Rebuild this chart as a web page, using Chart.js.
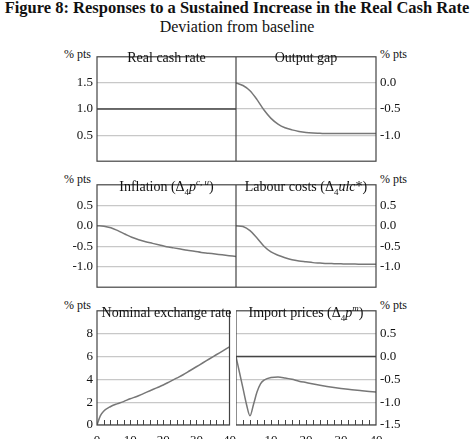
<!DOCTYPE html>
<html>
<head>
<meta charset="utf-8">
<script src="https://cdn.jsdelivr.net/npm/chart.js@4"></script>
<style>
  body { margin: 0; background: #fff; font-family: "Liberation Serif", serif; }
  #wrap { position: relative; width: 474px; height: 439px; overflow: hidden; }
  .c { position: absolute; }
  .t { position: absolute; color: #111; white-space: nowrap; line-height: 18px; }
  .t sub, .t sup { line-height: 0; font-size: 9px; }
</style>
</head>
<body>
<div id="wrap">
  <div class="t" style="left:0;width:474px;top:-1px;text-align:center;font-weight:bold;font-size:16.5px">Figure 8: Responses to a Sustained Increase in the Real Cash Rate</div>
  <div class="t" style="left:0;width:474px;top:18px;text-align:center;font-size:16px">Deviation from baseline</div>

  <div class="t" style="left:64px;top:45px;font-size:12px">% pts</div>
  <div class="t" style="left:380px;top:45px;font-size:12px">% pts</div>
  <div class="t" style="left:64px;top:170px;font-size:12px">% pts</div>
  <div class="t" style="left:380px;top:170px;font-size:12px">% pts</div>
  <div class="t" style="left:64px;top:296px;font-size:12px">% pts</div>
  <div class="t" style="left:380px;top:296px;font-size:12px">% pts</div>

  <canvas class="c" id="p1" style="left:47px;top:45px"></canvas>
  <canvas class="c" id="p2" style="left:236px;top:45px"></canvas>
  <canvas class="c" id="p3" style="left:47px;top:173px"></canvas>
  <canvas class="c" id="p4" style="left:236px;top:173px"></canvas>
  <canvas class="c" id="p5" style="left:47px;top:299px"></canvas>
  <canvas class="c" id="p6" style="left:236px;top:299px"></canvas>

  <div class="t" style="left:97px;width:139px;top:49px;text-align:center;font-size:14px">Real cash rate</div>
  <div class="t" style="left:236px;width:140px;top:49px;text-align:center;font-size:14px">Output gap</div>
  <div class="t" style="left:97px;width:139px;top:178px;text-align:center;font-size:14px">Inflation (Δ<sub>4</sub><i>p</i><sup><i>c, u</i></sup>)</div>
  <div class="t" style="left:236px;width:140px;top:178px;text-align:center;font-size:14px">Labour costs (Δ<sub>4</sub><i>ulc</i>*)</div>
  <div class="t" style="left:97px;width:139px;top:304px;text-align:center;font-size:14px">Nominal exchange rate</div>
  <div class="t" style="left:236px;width:140px;top:304px;text-align:center;font-size:14px">Import prices (Δ<sub>4</sub><i>p</i><sup><i>m</i></sup>)</div>
</div>

<script>
// quarters after the shock
const quarters = [0, 2, 4, 6, 8, 10, 12, 14, 16, 18, 20, 22, 24, 26, 28, 30, 32, 34, 36, 38, 40];
const realCash = [1, 1, 1, 1, 1, 1, 1, 1, 1, 1, 1, 1, 1, 1, 1, 1, 1, 1, 1, 1, 1];
const outputGap = [0, -0.05, -0.15, -0.32, -0.52, -0.68, -0.79, -0.86, -0.9, -0.93, -0.95, -0.96, -0.965, -0.97, -0.97, -0.97, -0.97, -0.97, -0.97, -0.97, -0.97];
const inflation = [0, -0.01, -0.05, -0.12, -0.2, -0.28, -0.34, -0.39, -0.43, -0.47, -0.51, -0.54, -0.57, -0.6, -0.62, -0.65, -0.67, -0.69, -0.71, -0.73, -0.75];
const labourCosts = [0, -0.02, -0.12, -0.3, -0.5, -0.64, -0.72, -0.78, -0.83, -0.86, -0.88, -0.9, -0.91, -0.92, -0.925, -0.93, -0.935, -0.935, -0.94, -0.94, -0.94];
const exchQuarters = [0, 1, 2, 4, 6, 8, 10, 12, 14, 16, 18, 20, 22, 24, 26, 28, 30, 32, 34, 36, 38, 40];
const exchangeRate = [0, 0.8, 1.2, 1.6, 1.85, 2.05, 2.3, 2.5, 2.75, 3.0, 3.25, 3.5, 3.8, 4.1, 4.4, 4.75, 5.1, 5.45, 5.8, 6.15, 6.5, 6.85];
const importQuarters = [0, 1, 2, 3, 4, 5, 6, 7, 8, 10, 12, 14, 16, 18, 20, 24, 28, 32, 36, 40];
const importPrices = [0, -0.35, -0.7, -1.05, -1.3, -1.05, -0.78, -0.6, -0.52, -0.46, -0.45, -0.47, -0.5, -0.54, -0.57, -0.63, -0.68, -0.72, -0.75, -0.78];
const zeroLine = [0, 0];
const zeroQuarters = [0, 40];

const leftTicks = [[0.5, 1.0, 1.5], [-1.0, -0.5, 0.0, 0.5], [0, 2, 4, 6, 8]];
const rightTicks = [[-1.0, -0.5, 0.0], [-1.0, -0.5, 0.0, 0.5], [-1.5, -1.0, -0.5, 0.0, 0.5]];

const FONT = { family: "Liberation Serif", size: 13 };

function pts(xs, ys) { return xs.map((x, i) => ({ x: x, y: ys[i] })); }

const frame = {
    id: "frame",
    afterDraw(chart) {
        const a = chart.chartArea, ctx = chart.ctx;
        ctx.save();
        ctx.strokeStyle = "#444";
        ctx.lineWidth = 1.2;
        ctx.strokeRect(a.left, a.top, a.right - a.left, a.bottom - a.top);
        if (chart.options.plugins.frame.minor) {
            const xs = chart.scales.x;
            ctx.lineWidth = 1;
            for (let q = 2; q < 40; q += 2) {
                const px = Math.round(xs.getPixelForValue(q)) + 0.5;
                ctx.beginPath();
                ctx.moveTo(px, a.bottom);
                ctx.lineTo(px, a.bottom - 5);
                ctx.stroke();
            }
        }
        ctx.restore();
    }
};

function panel(id, side, w, h, yMin, yMax, ticks, datasets, bottom) {
    const cv = document.getElementById(id);
    cv.width = w; cv.height = h;
    cv.style.width = w + "px"; cv.style.height = h + "px";
    return new Chart(cv, {
        type: "line",
        data: { datasets: datasets },
        options: {
            responsive: false,
            animation: false,
            devicePixelRatio: 1,
            layout: { padding: 0 },
            plugins: { legend: { display: false }, tooltip: { enabled: false }, frame: { minor: bottom } },
            elements: { point: { radius: 0 } },
            scales: {
                x: {
                    type: "linear", min: 0, max: 40,
                    display: true,
                    grid: { display: false },
                    border: { display: false },
                    afterBuildTicks: s => { s.ticks = (side === "left" ? [0, 10, 20, 30, 40] : [10, 20, 30, 40]).map(v => ({ value: v })); },
                    afterFit: s => { s.height = bottom ? 16 : 0; },
                    ticks: { display: bottom, color: "#111", font: FONT, padding: 0, maxRotation: 0 }
                },
                y: {
                    position: side, min: yMin, max: yMax,
                    afterBuildTicks: s => { s.ticks = ticks.map(v => ({ value: v })); },
                    afterFit: s => { s.width = side === "left" ? 50 : 40; },
                    grid: { color: "#c8c8c8", lineWidth: 1.2, drawTicks: false },
                    border: { display: false },
                    ticks: {
                        color: "#111", font: FONT, padding: 4,
                        callback: v => (Math.abs(yMax - yMin) > 5 ? String(v) : v.toFixed(1))
                    }
                }
            }
        },
        plugins: [frame]
    });
}

function line(data, color, width) {
    return { data: data, borderColor: color, borderWidth: width, tension: 0.4, cubicInterpolationMode: "monotone", fill: false };
}

panel("p1", "left", 189, 128, 0, 2, leftTicks[0], [line(pts(quarters, realCash), "#444", 1.6)], false);
panel("p2", "right", 180, 128, -1.5, 0.5, rightTicks[0], [line(pts(quarters, outputGap), "#777", 1.5)], false);
panel("p3", "left", 189, 126, -1.5, 1.0, leftTicks[1], [line(pts(quarters, inflation), "#777", 1.5)], false);
panel("p4", "right", 180, 126, -1.5, 1.0, rightTicks[1], [line(pts(quarters, labourCosts), "#777", 1.5)], false);
panel("p5", "left", 189, 142, 0, 10, leftTicks[2], [line(pts(exchQuarters, exchangeRate), "#777", 1.5)], true);
panel("p6", "right", 180, 142, -1.5, 1.0, rightTicks[2], [
    line(pts(zeroQuarters, zeroLine), "#444", 1.6),
    line(pts(importQuarters, importPrices), "#777", 1.5)
], true);
</script>
</body>
</html>
